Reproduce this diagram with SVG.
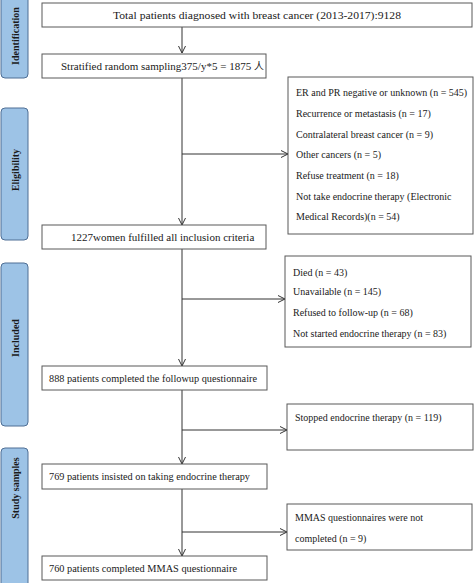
<svg xmlns="http://www.w3.org/2000/svg" width="474" height="583" viewBox="0 0 474 583">
<style>
.box{fill:#fff;stroke:#595959;stroke-width:1}
.lab{fill:#9dc3e6;stroke:#4f6f95;stroke-width:1}
.t{font-family:"Liberation Serif","Times New Roman",serif;font-size:11px;fill:#1a1a1a}
.s{font-family:"Liberation Serif","Times New Roman",serif;font-size:10px;fill:#1a1a1a}
.l{font-family:"Liberation Serif","Times New Roman",serif;font-size:10px;font-weight:bold;fill:#1a1a1a}
.c{stroke:#333;stroke-width:1;fill:none}
</style>
<defs>
<marker id="ah" markerWidth="10" markerHeight="10" refX="8" refY="4" orient="auto" markerUnits="userSpaceOnUse">
<path d="M1,0.5 L8,4 L1,7.5" fill="none" stroke="#333" stroke-width="1"/>
</marker>
</defs>
<rect width="474" height="583" fill="#fff"/>

<g id="label-identification"><rect class="lab" x="1" y="-6" width="27" height="84" rx="4"/><text class="l" transform="translate(19,36) rotate(-90)" text-anchor="middle">Identification</text></g>
<g id="label-eligibility"><rect class="lab" x="1" y="108" width="27" height="132" rx="4"/><text class="l" transform="translate(19,170) rotate(-90)" text-anchor="middle">Eligibility</text></g>
<g id="label-included"><rect class="lab" x="1" y="263" width="27" height="163" rx="4"/><text class="l" transform="translate(19,338) rotate(-90)" text-anchor="middle">Included</text></g>
<g id="label-study"><rect class="lab" x="1" y="448" width="27" height="150" rx="4"/><text class="l" transform="translate(19,488) rotate(-90)" text-anchor="middle">Study samples</text></g>

<g id="connectors">
<line class="c" x1="182" y1="27" x2="182" y2="53" marker-end="url(#ah)"/>
<line class="c" x1="182" y1="78" x2="182" y2="225" marker-end="url(#ah)"/>
<line class="c" x1="182" y1="154" x2="288" y2="154" marker-end="url(#ah)"/>
<line class="c" x1="182" y1="249" x2="182" y2="366" marker-end="url(#ah)"/>
<line class="c" x1="182" y1="299" x2="285" y2="299" marker-end="url(#ah)"/>
<line class="c" x1="182" y1="390" x2="182" y2="464" marker-end="url(#ah)"/>
<line class="c" x1="182" y1="430" x2="287" y2="430" marker-end="url(#ah)"/>
<line class="c" x1="182" y1="489" x2="182" y2="556" marker-end="url(#ah)"/>
<line class="c" x1="182" y1="532" x2="287" y2="532" marker-end="url(#ah)"/>
</g>

<g id="n-total"><rect class="box" x="42" y="3" width="430" height="24"/><text class="t" x="113" y="19" font-size="12" textLength="288" lengthAdjust="spacingAndGlyphs">Total patients diagnosed with breast cancer (2013-2017):9128</text></g>
<g id="n-sampling"><rect class="box" x="42" y="54" width="224" height="24"/><text class="t" x="61" y="70" font-size="10.5">Stratified random sampling375/y*5 = 1875 <tspan font-family="'Noto Sans CJK SC',sans-serif" font-size="10">人</tspan></text></g>
<g id="n-excl1"><rect class="box" x="288" y="77" width="185" height="157"/>
<text class="s" x="296" y="96">ER and PR negative or unknown (n = 545)</text>
<text class="s" x="296" y="117">Recurrence or metastasis (n = 17)</text>
<text class="s" x="296" y="138">Contralateral breast cancer (n = 9)</text>
<text class="s" x="296" y="158">Other cancers (n = 5)</text>
<text class="s" x="296" y="179">Refuse treatment (n = 18)</text>
<text class="s" x="296" y="200">Not take endocrine therapy (Electronic</text>
<text class="s" x="296" y="220">Medical Records)(n = 54)</text>
</g>
<g id="n-1227"><rect class="box" x="42" y="225" width="224" height="24"/><text class="t" x="71" y="241">1227women fulfilled all inclusion criteria</text></g>
<g id="n-excl2"><rect class="box" x="285" y="256" width="186" height="91"/>
<text class="s" x="293" y="276">Died (n = 43)</text>
<text class="s" x="293" y="295">Unavailable (n = 145)</text>
<text class="s" x="293" y="316">Refused to follow-up (n = 68)</text>
<text class="s" x="293" y="337">Not started endocrine therapy (n = 83)</text>
</g>
<g id="n-888"><rect class="box" x="42" y="366" width="225" height="24"/><text class="t" x="49" y="382" textLength="208" lengthAdjust="spacingAndGlyphs">888 patients completed the followup questionnaire</text></g>
<g id="n-excl3"><rect class="box" x="287" y="404" width="186" height="46"/><text class="s" x="295" y="421">Stopped endocrine therapy (n = 119)</text></g>
<g id="n-769"><rect class="box" x="42" y="464" width="225" height="25"/><text class="t" x="49" y="480" textLength="201" lengthAdjust="spacingAndGlyphs">769 patients insisted on taking endocrine therapy</text></g>
<g id="n-excl4"><rect class="box" x="287" y="504" width="185" height="46"/>
<text class="s" x="295" y="521">MMAS questionnaires were not</text>
<text class="s" x="295" y="542">completed (n = 9)</text>
</g>
<g id="n-760"><rect class="box" x="42" y="556" width="225" height="24"/><text class="t" x="49" y="572" textLength="188" lengthAdjust="spacingAndGlyphs">760 patients completed MMAS questionnaire</text></g>
</svg>
